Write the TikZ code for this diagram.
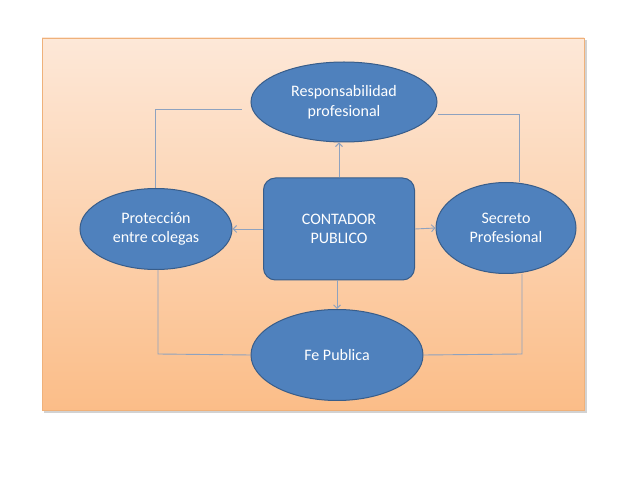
\documentclass[tikz,border=0pt]{standalone}
\usepackage{fontspec}
\setmainfont{Carlito}
\usetikzlibrary{shapes.geometric,arrows.meta,shadows}
\definecolor{blueFill}{HTML}{4F81BD}
\definecolor{blueEdge}{HTML}{385D8A}
\definecolor{lineCol}{HTML}{8EA2BF}
\definecolor{bgTop}{HTML}{FDE8D8}
\definecolor{bgBot}{HTML}{FBBD88}
\begin{document}
\begin{tikzpicture}[x=1pt,y=-1pt,
  oval/.style={ellipse,draw=blueEdge,line width=1pt,fill=blueFill,text=white,
    align=center,font=\fontsize{16}{19.5}\selectfont,inner sep=0pt},
  mainbox/.style={rounded corners=12pt,draw=blueEdge,line width=1pt,fill=blueFill,
    text=white,align=center,font=\fontsize{16}{19.5}\selectfont,inner sep=0pt},
  conn/.style={draw=lineCol,line width=0.9pt},
  arr/.style={conn,-{Straight Barb[length=3.5pt,width=7pt]}}]
\useasboundingbox (0,0) rectangle (638,478);
\fill[gray!35] (44,40) rectangle (587,413);
\shade[top color=bgTop,bottom color=bgBot,draw=bgBot!80!brown,line width=0.6pt]
  (42,38) rectangle (584,410);
\node[mainbox,minimum width=151pt,minimum height=102pt] (c) at (339,229) {CONTADOR\\PUBLICO};
\node[oval,minimum width=186pt,minimum height=80pt] (r) at (344,102) {Responsabilidad\\profesional};
\node[oval,minimum width=152pt,minimum height=81pt] (p) at (156,229) {Protección\\entre colegas};
\node[oval,minimum width=140pt,minimum height=91pt] (s) at (506,228) {Secreto\\Profesional};
\node[oval,minimum width=172pt,minimum height=91pt] (f) at (337,355) {Fe Publica};
\coordinate (tl) at (155,109);
\coordinate (tle) at (242,109);
\coordinate (tr) at (519,114);
\coordinate (bl) at (158,354);
\coordinate (br) at (522,354);
\draw[arr] (c.north) -- (c.north |- r.south);
\draw[arr] (c.west) -- (p.east);
\draw[arr] (c.east) -- (s.west);
\draw[arr] (c.south -| f) -- (f.north);
\draw[conn] (p.north -| tl) -- (tl) -- (tle);
\draw[conn] (r.east |- tr) -- (tr) -- (s.north -| tr);
\draw[conn] (p.south -| bl) -- (bl) -- (f.west);
\draw[conn] (f.east) -- (br) -- (s.south -| br);
\end{tikzpicture}
\end{document}
